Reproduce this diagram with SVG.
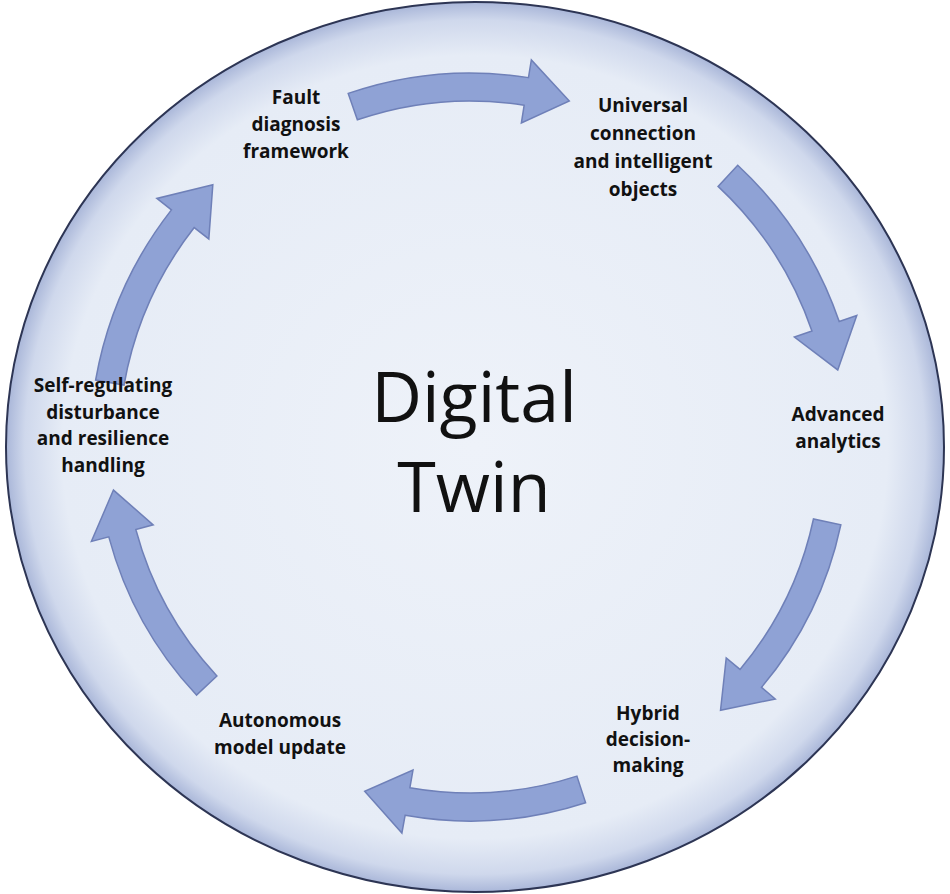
<svg xmlns="http://www.w3.org/2000/svg" width="950" height="894" viewBox="0 0 950 894">
<defs>
<radialGradient id="bg" cx="50%" cy="50%" r="50%">
<stop offset="0" stop-color="#eef2f9"/><stop offset="0.88" stop-color="#e6ecf6"/><stop offset="0.96" stop-color="#cfd8ec"/><stop offset="1" stop-color="#aab7d9"/>
</radialGradient>
<path id="arr" d="M -115.6,-355.7 A374,374 0 0 1 64.9,-368.3 L 68.1,-386.0 L105.3,-344.3 L57.0,-323.0 L60.1,-340.7 A346,346 0 0 0 -106.9,-329.1 Z"/>
</defs>
<style>
.a{fill:#8fa2d5;stroke:#6f80b8;stroke-width:1.5}
.t{font-family:"Open Sans","Liberation Sans",sans-serif;font-weight:bold;font-size:19px;fill:#111;text-anchor:middle}
.big{font-family:"Open Sans","Liberation Sans",sans-serif;font-size:70px;fill:#111;text-anchor:middle}
</style>
<rect width="950" height="894" fill="#fff"/>
<g id="circle"><ellipse cx="475" cy="447" rx="469" ry="445" fill="url(#bg)" stroke="#2d3554" stroke-width="2"/></g>
<g id="connectors">
<use href="#arr" class="a" transform="translate(470,447) rotate(-1)"/>
<use href="#arr" class="a" transform="translate(475,447) scale(1.03) rotate(61)"/>
<use href="#arr" class="a" transform="translate(475,447) scale(1.0) rotate(120)"/>
<use href="#arr" class="a" transform="translate(470,447) rotate(180)"/>
<use href="#arr" class="a" transform="translate(470,440) scale(1.0) rotate(245)"/>
<use href="#arr" class="a" transform="translate(475,447) scale(1.03) rotate(298)"/>
</g>
<g id="center"><text class="big" x="474" y="422">Digital</text><text class="big" x="474" y="512">Twin</text></g>
<g id="n1"><text class="t" x="296" y="104">Fault</text><text class="t" x="296" y="131">diagnosis</text><text class="t" x="296" y="158">framework</text></g>
<g id="n2"><text class="t" x="643" y="112">Universal</text><text class="t" x="643" y="140">connection</text><text class="t" x="643" y="168">and intelligent</text><text class="t" x="643" y="196">objects</text></g>
<g id="n3"><text class="t" x="838" y="421">Advanced</text><text class="t" x="838" y="448">analytics</text></g>
<g id="n4"><text class="t" x="648" y="720">Hybrid</text><text class="t" x="648" y="746">decision-</text><text class="t" x="648" y="772">making</text></g>
<g id="n5"><text class="t" x="280" y="727">Autonomous</text><text class="t" x="280" y="754">model update</text></g>
<g id="n6"><text class="t" x="103" y="392">Self-regulating</text><text class="t" x="103" y="419">disturbance</text><text class="t" x="103" y="445">and resilience</text><text class="t" x="103" y="472">handling</text></g>
</svg>
